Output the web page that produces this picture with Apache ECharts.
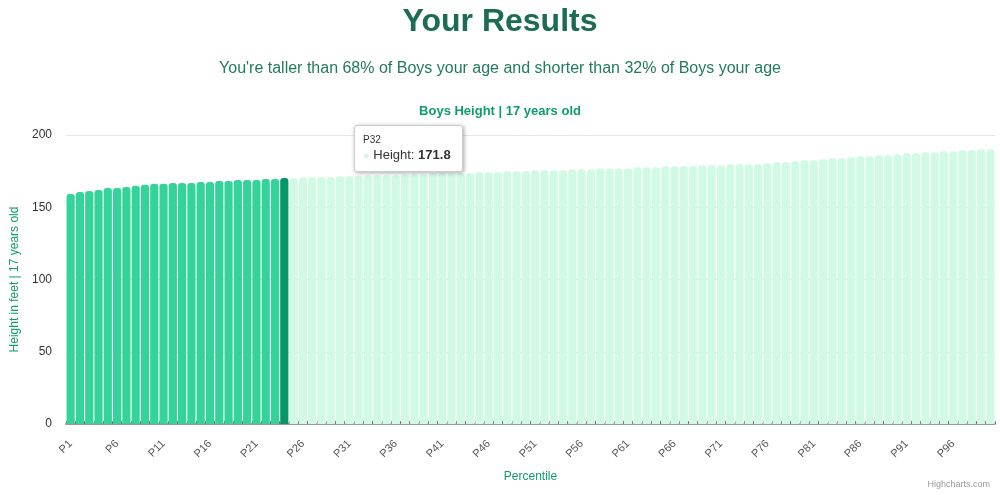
<!DOCTYPE html>
<html>
<head>
<meta charset="utf-8">
<script src="https://cdn.jsdelivr.net/npm/echarts@6/dist/echarts.min.js"></script>
<style>
  html, body { margin: 0; padding: 0; background: #fff; }
  #main { width: 1000px; height: 495px; }
</style>
</head>
<body>
<div id="main"></div>
<script>
// percentile heights, P1 .. P100
var heights = [
  159.2, 160.6, 161.3, 162.0, 163.4, 163.4, 164.1, 164.8, 165.5, 166.2,
  166.2, 166.8, 166.8, 166.8, 167.5, 167.5, 168.2, 168.2, 168.9, 168.9,
  168.9, 169.6, 169.6, 170.3, 170.0, 170.7, 170.7, 170.7, 170.7, 171.4,
  171.4, 171.8, 172.1, 172.1, 172.1, 172.1, 172.8, 172.8, 172.8, 173.5,
  173.5, 173.5, 173.5, 173.5, 174.2, 174.2, 174.2, 174.9, 174.9, 174.9,
  175.6, 175.6, 175.6, 175.6, 176.3, 176.3, 176.3, 176.9, 176.9, 176.9,
  176.9, 177.6, 177.6, 177.6, 178.3, 178.3, 178.3, 178.3, 179.0, 179.0,
  179.0, 179.7, 179.7, 179.7, 179.7, 180.4, 181.1, 181.1, 181.8, 182.5,
  182.5, 183.2, 183.9, 183.9, 184.6, 185.3, 185.3, 186.0, 186.0, 186.6,
  187.3, 187.3, 188.0, 188.0, 188.7, 188.7, 189.4, 189.4, 190.1, 190.1
]
var categories = heights.map(function (v, i) { return 'P' + (i + 1) })
var yTicks = [0, 50, 100, 150, 200]
var belowCount = 23   // bars shorter than the user
var userIndex = 23    // the user's bar
var tipIndex = 31     // P32

var myChart = echarts.init(document.getElementById('main'))

var barData = heights.map(function (v, i) {
  var c = '#d1fae5'
  if (i < belowCount) c = '#34d399'
  if (i === userIndex) c = '#059669'
  return { value: v, itemStyle: { color: c } }
})

var option = {
  animation: false,
  title: [
    {
      text: 'Your Results',
      left: 'center', top: 1,
      textStyle: { fontFamily: 'Liberation Sans', fontSize: 32, fontWeight: 'bold', color: '#1b6b55' }
    },
    {
      text: "You're taller than 68% of Boys your age and shorter than 32% of Boys your age",
      left: 'center', top: 56,
      textStyle: { fontFamily: 'Liberation Sans', fontSize: 16, fontWeight: 'normal', color: '#237a60' }
    },
    {
      text: 'Boys Height | 17 years old',
      left: 'center', top: 100,
      textStyle: { fontFamily: 'Liberation Sans', fontSize: 13, fontWeight: 'bold', color: '#0f9d6b' }
    }
  ],
  grid: { left: 66, right: 5, top: 135, bottom: 71 },
  tooltip: {
    trigger: 'item',
    triggerOn: 'none',
    alwaysShowContent: true,
    transitionDuration: 0,
    backgroundColor: '#fff',
    borderColor: '#ccc',
    borderWidth: 1,
    padding: [7, 8],
    extraCssText: 'box-shadow: 1px 1px 4px rgba(0,0,0,0.35); border-radius: 3px;',
    position: function () { return [354, 125] },
    formatter: function (p) {
      return '<div style="font-family:Liberation Sans;font-size:10px;color:#333;line-height:13px">' + p.name + '</div>' +
        '<div style="font-family:Liberation Sans;font-size:13px;color:#333;line-height:18px">' +
        '<span style="color:#d1fae5;font-size:11px">\u25CF</span> Height: <b>' + p.value + '</b>&nbsp;</div>'
    }
  },
  xAxis: {
    type: 'category',
    data: categories,
    name: 'Percentile',
    nameLocation: 'middle',
    nameGap: 47,
    nameTextStyle: { fontFamily: 'Liberation Sans', fontSize: 12, color: '#0f9d6b' },
    axisLine: { lineStyle: { color: '#999', width: 2 } },
    axisTick: { show: true, interval: 0, length: 3, inside: true, lineStyle: { color: '#777' } },
    axisLabel: {
      interval: 4, rotate: 45, fontFamily: 'Liberation Sans', fontSize: 11, color: '#555', margin: 18
    }
  },
  yAxis: {
    type: 'value',
    min: yTicks[0],
    max: yTicks[yTicks.length - 1],
    interval: 50,
    name: 'Height in feet | 17 years old',
    nameLocation: 'middle',
    nameGap: 44,
    nameTextStyle: { fontFamily: 'Liberation Sans', fontSize: 12, color: '#0f9d6b' },
    axisLine: { show: false },
    axisTick: { show: false },
    axisLabel: { fontFamily: 'Liberation Sans', fontSize: 12, color: '#333', margin: 14 },
    splitLine: { lineStyle: { color: '#e6e6e6' } }
  },
  graphic: [
    {
      type: 'text', right: 10, bottom: 6,
      style: { text: 'Highcharts.com', fontFamily: 'Liberation Sans', fontSize: 9, fill: '#999' }
    }
  ],
  series: [{
    name: 'Height',
    type: 'bar',
    data: barData,
    barCategoryGap: '12%',
    itemStyle: { borderRadius: [3, 3, 0, 0] }
  }]
}

myChart.setOption(option)
myChart.dispatchAction({ type: 'showTip', seriesIndex: 0, dataIndex: tipIndex })
</script>
</body>
</html>
